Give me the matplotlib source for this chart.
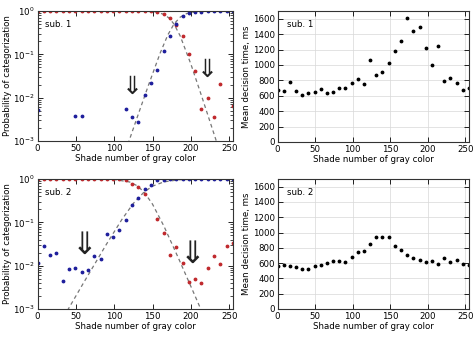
import numpy as np
import matplotlib
matplotlib.use("Agg")
import matplotlib.pyplot as plt

nan = float("nan")

shades = [0, 8.2, 16.5, 24.7, 32.9, 41.1, 49.4, 57.6, 65.8, 74.0, 82.3, 90.5,
          98.7, 106.9, 115.2, 123.4, 131.6, 139.8, 148.1, 156.3, 164.5, 172.7,
          181.0, 189.2, 197.4, 205.6, 213.9, 222.1, 230.3, 238.5, 246.8, 255.0]

# sub. 1 probabilities
s1_blue = [0.0052, nan, nan, nan, nan, nan, 0.0038, 0.0038, nan, nan, nan, nan,
           nan, nan, 0.0055, 0.0035, 0.0028, 0.0113, 0.022, 0.043, 0.12, 0.27,
           0.50, 0.75, 0.90, 0.95, 0.97, 0.98, 0.99, 0.99, 0.99, 0.99]
s1_red = [1.0, 1.0, 1.0, 1.0, 1.0, 1.0, 1.0, 1.0, 1.0, 1.0, 1.0, 1.0,
          1.0, 1.0, 1.0, 1.0, 1.0, 1.0, 0.99, 0.96, 0.84, 0.70,
          0.48, 0.26, 0.102, 0.041, 0.0055, 0.0098, 0.0036, 0.021, nan, 0.0063]
# sub. 2 probabilities
s2_blue = [0.0117, 0.029, 0.0176, 0.020, 0.0044, 0.0084, 0.0088, 0.0070, 0.0078,
           0.0164, 0.0145, 0.054, 0.047, 0.066, 0.111, 0.245, 0.36, 0.58, 0.71,
           0.93, 0.96, 0.98, 0.99, 0.99, 0.99, 0.99, 0.99, 0.99, 0.99, 0.99, 0.99, 0.99]
s2_red = [1.0, 1.0, 1.0, 1.0, 1.0, 1.0, 1.0, 1.0, 1.0, 1.0, 1.0, 1.0,
          1.0, 1.0, 0.97, 0.78, 0.65, 0.44, nan, 0.117, 0.056, 0.018,
          0.027, 0.0113, 0.0041, 0.0048, 0.0040, 0.0087, 0.0166, 0.0111, 0.029, 0.033]

# fitted (dashed) curves
s1_fitb_x = [115, 130, 145, 160, 170, 178, 186, 195, 210, 255]
s1_fitb_y = [0.0006, 0.0035, 0.020, 0.107, 0.281, 0.5, 0.719, 0.881, 0.977, 1.0]
s1_fitr_x = [0, 140, 155, 165, 172, 178, 186, 200, 215, 240]
s1_fitr_y = [1.0, 0.991, 0.947, 0.835, 0.679, 0.5, 0.269, 0.060, 0.0097, 0.00043]
s2_fitb_x = [30, 60, 90, 110, 125, 139, 150, 165, 185, 220, 255]
s2_fitb_y = [0.00049, 0.0040, 0.0314, 0.116, 0.273, 0.5, 0.683, 0.86, 0.962, 0.9965, 1.0]
s2_fitr_x = [0, 100, 120, 130, 139, 150, 165, 185, 205, 225]
s2_fitr_y = [1.0, 0.974, 0.855, 0.699, 0.5, 0.263, 0.081, 0.0134, 0.0021, 0.00032]

# mean decision times
s1_rt = [670, 657, 783, 657, 614, 636, 649, 683, 640, 653, 705, 705, 770, 813,
         752, 1059, 865, 912, 1021, 1176, 1315, 1605, 1440, 1496, 1219, 995,
         1245, 796, 826, 761, 679, 700]
s2_rt = [568, 575, 562, 554, 523, 528, 566, 575, 601, 623, 623, 610, 683, 740,
         761, 852, 943, 943, 943, 830, 770, 700, 670, 644, 618, 627, 584, 662,
         618, 640, 592, 579]

# arrows: (x, y) centres
s1_arrows = [(124, 0.018), (222, 0.043)]
s2_arrows = [(61, 0.030), (202, 0.0186)]

BLUE = "#1f1f9c"
RED = "#c02a2e"
FS = 6.2

plt.rcParams["font.family"] = ["DejaVu Sans"]
plt.rcParams["font.size"] = FS
plt.rcParams["mathtext.default"] = "regular"

W, H = 474, 338
fig = plt.figure(figsize=(W / 100, H / 100), dpi=100)


def box(l, r, t, b):
    return [l / W, 1 - b / H, (r - l) / W, (b - t) / H]


def style(ax):
    ax.tick_params(which="both", direction="in", top=True, right=True,
                   labelsize=FS, pad=2)
    ax.tick_params(which="major", length=3.5, width=0.6)
    ax.tick_params(which="minor", length=2, width=0.5)
    for s in ax.spines.values():
        s.set_linewidth(0.8)
        s.set_color("#333333")


label_sizes = {"sub. 1": [18, 18], "sub. 2": [22, 22]}


def prob_panel(ax, blue, red, fbx, fby, frx, fry, label, arrows):
    ax.plot(fbx, fby, ls=(0, (3, 2.5)), color="#777777", lw=0.9)
    ax.plot(frx, fry, ls=(0, (3, 2.5)), color="#777777", lw=0.9)
    ax.plot(shades, red, ".", color=RED, ms=3.5)
    ax.plot(shades, blue, ".", color=BLUE, ms=3.5)
    ax.set_yscale("log")
    ax.set_ylim(1e-3, 1)
    ax.set_xlim(0, 255)
    ax.set_xticks([0, 50, 100, 150, 200, 250])
    ax.set_xlabel("Shade number of gray color", fontsize=FS, labelpad=1)
    ax.set_ylabel("Probability of categorization", fontsize=FS, labelpad=1)
    ax.text(0.04, 0.88, label, transform=ax.transAxes, fontsize=FS)
    for (x, y), fsz in zip(arrows, label_sizes[label]):
        ax.text(x, y, "\u21d3", fontsize=fsz, ha="center", va="center",
                color="#222222")
    style(ax)


def rt_panel(ax, rt, label):
    ax.plot(shades, rt, ".", color="black", ms=3.5)
    ax.set_xlim(0, 255)
    ax.set_ylim(0, 1700)
    ax.set_xticks([0, 50, 100, 150, 200, 250])
    ax.set_yticks(range(0, 1601, 200))
    ax.grid(True, color="#d8d8d8", lw=0.5, ls="-")
    ax.set_axisbelow(True)
    ax.set_xlabel("Shade number of gray color", fontsize=FS, labelpad=1)
    ax.set_ylabel("Mean decision time, ms", fontsize=FS, labelpad=1)
    ax.text(0.05, 0.88, label, transform=ax.transAxes, fontsize=FS)
    style(ax)


ax1 = fig.add_axes(box(37.5, 233, 11, 141))
prob_panel(ax1, s1_blue, s1_red, s1_fitb_x, s1_fitb_y, s1_fitr_x, s1_fitr_y,
           "sub. 1", s1_arrows)
ax2 = fig.add_axes(box(277.5, 469, 11, 142))
rt_panel(ax2, s1_rt, "sub. 1")
ax3 = fig.add_axes(box(37.5, 233, 179, 309))
prob_panel(ax3, s2_blue, s2_red, s2_fitb_x, s2_fitb_y, s2_fitr_x, s2_fitr_y,
           "sub. 2", s2_arrows)
ax4 = fig.add_axes(box(277.5, 469, 179, 309))
rt_panel(ax4, s2_rt, "sub. 2")

fig.savefig("out.png", dpi=100, facecolor="white")
